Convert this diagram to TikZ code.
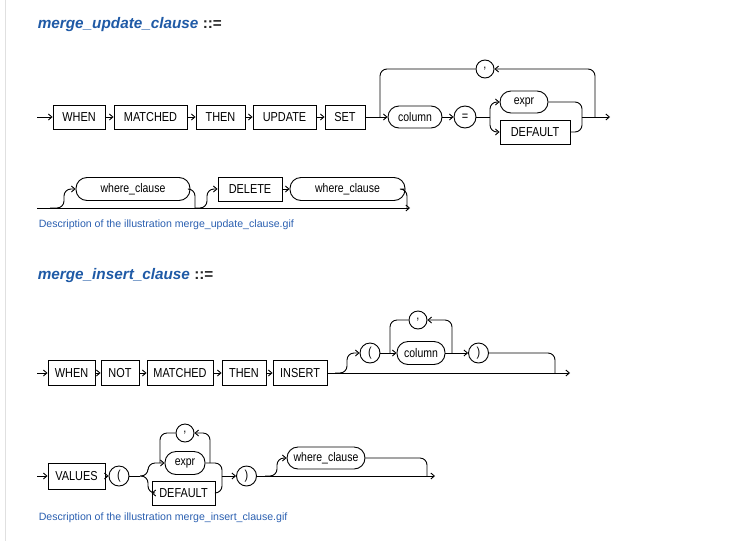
\documentclass[tikz,border=0pt]{standalone}
\usepackage{fontspec}
\setmainfont{Liberation Sans}
\newfontfamily\lblf{Liberation Sans}[FakeStretch=0.84]
\usetikzlibrary{arrows.meta}
\definecolor{ttl}{HTML}{1F5AA6}
\definecolor{cap}{HTML}{2A5FB0}
\begin{document}
\begin{tikzpicture}[x=1pt,y=-1pt,
  line width=0.9pt,
  >={Straight Barb[length=3.5pt,width=6pt]},
  kw/.style={draw,rectangle,minimum height=24pt,inner sep=0pt,font=\lblf\fontsize{13}{14}\selectfont},
  nt/.style={draw,rectangle,rounded corners=11pt,minimum height=22pt,inner sep=0pt,font=\lblf\fontsize{12.5}{14}\selectfont},
  ci/.style={draw,circle,minimum size=20pt,inner sep=0pt,font=\lblf\fontsize{13}{14}\selectfont},
  rc/.style={rounded corners=7pt},
  title/.style={anchor=west,font=\fontsize{15.3}{17}\selectfont\bfseries\itshape,text=ttl},
  capt/.style={anchor=west,font=\fontsize{10.6}{11}\selectfont,text=cap}]
\useasboundingbox (0,0) rectangle (751,541);
\draw[black!12,line width=1pt] (5,0) -- (5,541);
% ---------- merge_update_clause
\node[title] (t1) at (34,25) {merge\_update\_clause \textcolor{black!85}{\upshape ::=}};
\coordinate (s1) at (37,117);
\node[kw,minimum width=52pt] (w1) at (79,117) {WHEN};
\node[kw,minimum width=73pt] (m1) at (150.5,117) {MATCHED};
\node[kw,minimum width=49pt] (th1) at (220.5,117) {THEN};
\node[kw,minimum width=63pt] (up1) at (284.5,117) {UPDATE};
\node[kw,minimum width=40pt] (set1) at (345,117) {SET};
\node[nt,minimum width=54pt] (col1) at (415,117) {column};
\node[ci,minimum size=22pt] (eq1) at (465,117) {=};
\node[nt,minimum width=48pt] (ex1) at (524,102) {expr};
\node[kw,minimum width=70pt] (df1) at (535,132) {DEFAULT};
\node[ci,minimum size=18pt] (cm1) at (485,69) {,};
\coordinate (l1) at (380,117);
\coordinate (r1) at (595,117);
\coordinate (sp1) at (490,117);
\coordinate (jn1) at (582,117);
\coordinate (e1) at (610,117);
\draw[->] (s1) -- (w1);
\draw[->] (w1) -- (m1);
\draw[->] (m1) -- (th1);
\draw[->] (th1) -- (up1);
\draw[->] (up1) -- (set1);
\draw[->] (set1) -- (col1);
\draw[->] (col1) -- (eq1);
\draw (eq1) -- (sp1);
\draw[->,rc] (sp1) |- (ex1.west);
\draw[->,rc] (sp1) |- (df1.west);
\draw[rc] (ex1.east) -| (jn1);
\draw[rc] (df1.east) -| (jn1);
\draw[->] (jn1) -- (e1);
\draw[rc] (l1) |- (cm1.west);
\draw[->,rc] (r1) |- (cm1.east);
% row 2
\coordinate (s2) at (37,208);
\coordinate (e2) at (410,208);
\coordinate (b2a) at (50,208);
\coordinate (b2b) at (195,208);
\node[nt,minimum width=114pt,minimum height=23pt] (wc1) at (133,189) {where\_clause};
\node[kw,minimum width=64pt] (del) at (250,189) {DELETE};
\node[nt,minimum width=115pt,minimum height=23pt] (wc2) at (347.5,189) {where\_clause};
\draw[->] (s2) -- (e2);
\draw[->,rc] (b2a) -| ([xshift=14pt]b2a|-wc1) -- (wc1.west);
\draw[rc] (wc1.east) -| (b2b);
\draw[->,rc] (b2b) -| ([xshift=12pt]b2b|-del) -- (del.west);
\draw[->] (del) -- (wc2);
\draw[rc] (wc2.east) -| ([xshift=-3pt]e2);
\node[capt] (c1) at (35,225) {Description of the illustration merge\_update\_clause.gif};
% ---------- merge_insert_clause
\node[title] (t2) at (34,276) {merge\_insert\_clause \textcolor{black!85}{\upshape ::=}};
\coordinate (s3) at (37,373);
\node[kw,minimum width=47pt,minimum height=25pt] (w3) at (71.5,373) {WHEN};
\node[kw,minimum width=38pt,minimum height=25pt] (n3) at (120,373) {NOT};
\node[kw,minimum width=66pt,minimum height=25pt] (m3) at (180,373) {MATCHED};
\node[kw,minimum width=44pt,minimum height=25pt] (th3) at (244,373) {THEN};
\node[kw,minimum width=54pt,minimum height=25pt] (in3) at (300,373) {INSERT};
\node[ci] (lp3) at (370,353) {(};
\node[nt,minimum width=48pt,minimum height=23pt] (col3) at (421,353) {column};
\node[ci] (rp3) at (478.5,353) {)};
\node[ci,minimum size=18pt] (cm3) at (418,320) {,};
\coordinate (b3) at (335,373);
\coordinate (j3) at (555,373);
\coordinate (e3) at (570,373);
\coordinate (l3) at (390,353);
\coordinate (r3) at (452,353);
\draw[->] (s3) -- (w3);
\draw[->] (w3) -- (n3);
\draw[->] (n3) -- (m3);
\draw[->] (m3) -- (th3);
\draw[->] (th3) -- (in3);
\draw[->] (in3) -- (e3);
\draw[->,rc] (b3) -| ([xshift=12pt]b3|-lp3) -- (lp3.west);
\draw[->] (lp3) -- (col3);
\draw[->] (col3) -- (rp3);
\draw[rc] (rp3.east) -| (j3);
\draw[rc] (l3) |- (cm3.west);
\draw[->,rc] (r3) |- (cm3.east);
% row 4
\coordinate (s4) at (37,476);
\node[kw,minimum width=57pt,minimum height=26pt] (v4) at (76.5,476) {VALUES};
\node[ci] (lp4) at (119,476) {(};
\node[nt,minimum width=40pt,minimum height=23pt] (ex4) at (185,463) {expr};
\node[kw,minimum width=63pt,minimum height=24pt] (df4) at (183.5,493) {DEFAULT};
\node[ci,minimum size=18pt] (cm4) at (185,433) {,};
\node[ci] (rp4) at (246.5,476) {)};
\node[nt,minimum width=78pt,minimum height=22pt] (wc4) at (326,458) {where\_clause};
\coordinate (sp4) at (140,476);
\coordinate (jn4) at (222,476);
\coordinate (l4) at (160,463);
\coordinate (r4) at (210,463);
\coordinate (b4) at (265,476);
\coordinate (e4) at (435,476);
\draw[->] (s4) -- (v4);
\draw[->] (v4) -- (lp4);
\draw (lp4) -- (sp4);
\draw[->,rc] (sp4) -| ([xshift=8pt]sp4|-ex4) -- (ex4.west);
\draw[->,rc] (sp4) -| ([xshift=8pt]sp4|-df4) -- (df4.west);
\draw[rc] (ex4.east) -| (jn4);
\draw[rc] (df4.east) -| (jn4);
\draw[->] (jn4) -- (rp4);
\draw[rc] (l4) |- (cm4.west);
\draw[->,rc] (r4) |- (cm4.east);
\draw[->] (rp4) -- (e4);
\draw[->,rc] (b4) -| ([xshift=12pt]b4|-wc4) -- (wc4.west);
\draw[rc] (wc4.east) -| ([xshift=-8pt]e4);
\node[capt] (c2) at (35,518) {Description of the illustration merge\_insert\_clause.gif};
\end{tikzpicture}
\end{document}
